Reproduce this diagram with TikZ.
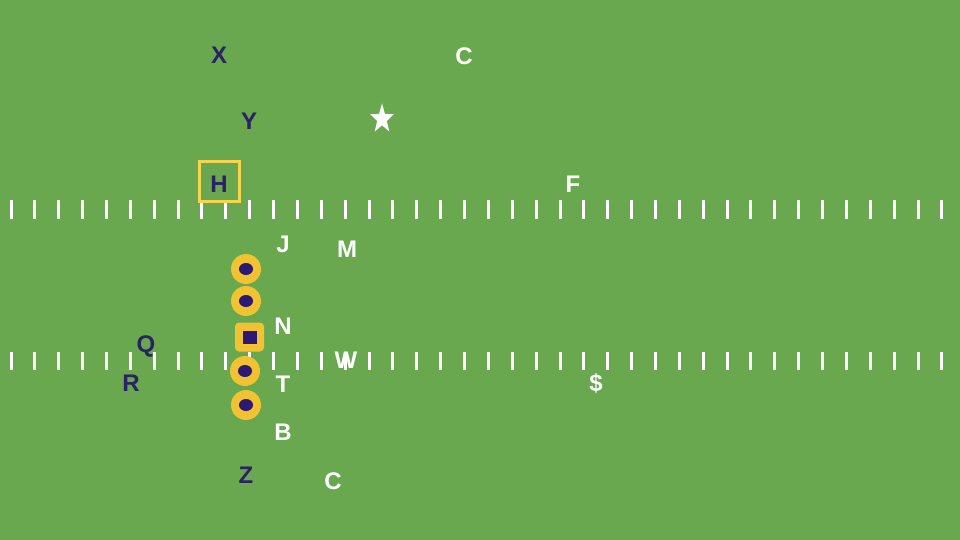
\documentclass[tikz,border=0pt]{standalone}
\usepackage{fontspec}
\setmainfont{Liberation Sans}
\usepackage{tikz}
\usepackage{xcolor}
\definecolor{field}{HTML}{6AA84F}
\definecolor{gold}{HTML}{F1C232}
\definecolor{boxgold}{HTML}{F5D450}
\definecolor{navy}{HTML}{2A2264}
\definecolor{dot}{HTML}{2D1873}
\tikzset{
	lbl/.style={font=\fontsize{24}{28}\selectfont\bfseries, inner sep=0pt},
	off/.style={lbl, text=navy},
	dfn/.style={lbl, text=white},
	hash/.style={white, line width=3pt},
	lineman/.style={circle, fill=gold, minimum size=30pt, inner sep=0pt,
		path picture={\fill[dot] (path picture bounding box.center) ellipse (7pt and 6pt);}},
	snapper/.style={rectangle, rounded corners=4pt, fill=gold, minimum size=29pt, inner sep=0pt,
		path picture={\fill[dot,sharp corners] ([shift={(-7pt,-6.5pt)}]path picture bounding box.center) rectangle ++(14pt,13pt);}},
	keybox/.style={draw=boxgold, line width=2.5pt, minimum size=40pt, inner sep=0pt}
}

\begin{document}
\begin{tikzpicture}[x=1pt,y=-1pt]
	\fill[field](0,0) rectangle (960,540);
	\useasboundingbox (0,0) rectangle (960,540);
	\foreach \i in {0,...,39}{
		\draw[hash]({11+23.87*\i},200)--++(0,19);
		\draw[hash]({11+23.87*\i},352)--++(0,18);
	}
	\node[keybox](hbox) at (219.5,181.5){};
	\node[lineman](p1) at (246,269){};
	\node[lineman](p2) at (246,301){};
	\node[snapper](ctr) at (249.5,337){};
	\node[lineman](p3) at (245,371){};
	\node[lineman](p4) at (246,405){};
	\fill[white,shift={(382,119)},xscale=.8](270:15.5)--(306:6.3)--(342:15.5)--(18:6.3)--(54:15.5)--(90:6.3)--(126:15.5)--(162:6.3)--(198:15.5)--(234:6.3)--cycle;
	\node[off](X) at (219,55){X};
	\node[off](Y) at (249,121){Y};
	\node[off](H) at (219,184){H};
	\node[off](Q) at (146,346){Q};
	\node[off](R) at (131,383){R};
	\node[off](Z) at (246,475){Z};
	\node[dfn](C) at (464,56){C};
	\node[dfn](F) at (573,184){F};
	\node[dfn](J) at (283,244){J};
	\node[dfn](M) at (347,249){M};
	\node[dfn](N) at (283,326){N};
	\node[dfn](W) at (346,360){W};
	\node[dfn](T) at (283,384){T};
	\node[dfn](dollar) at (596,383){\$};
	\node[dfn](B) at (283,432){B};
	\node[dfn](C2) at (333,481){C};
\end{tikzpicture}
\end{document}
